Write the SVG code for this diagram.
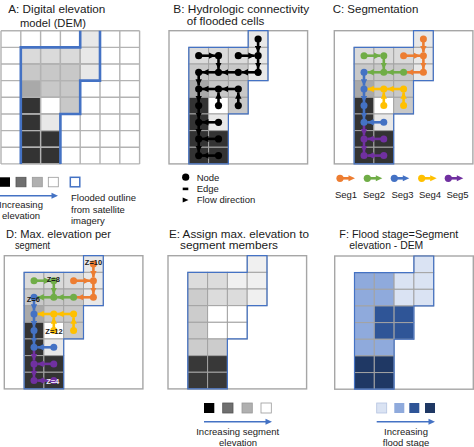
<svg xmlns="http://www.w3.org/2000/svg" width="474" height="447" viewBox="0 0 474 447">
<style>
text{font-family:"Liberation Sans","Open Sans",Arial,sans-serif;fill:#1a1a1a}
.t{font-size:11.5px}
.tb{font-size:10.5px}
.l{font-size:9.5px}
.m{text-anchor:middle}
.z{font-size:7.5px;font-weight:bold;text-anchor:middle}
.zw{fill:#efe6f8}
.grid{fill:none;stroke:#b3b3b3;stroke-width:1.4}
.box{fill:#fff;stroke:#a6a6a6;stroke-width:1.4}
.fo{fill:none;stroke:#4472c4;stroke-width:1.2}
.foA{fill:none;stroke:#4472c4;stroke-width:2.6}
.e{fill:none;stroke-width:2.6}
.k{stroke:#000}.o{stroke:#ed7d31}.g{stroke:#70ad47}.b{stroke:#4472c4}.y{stroke:#ffc000}.p{stroke:#7030a0}
.nk{fill:#000}.no{fill:#ed7d31}.ng{fill:#70ad47}.nb{fill:#4472c4}.ny{fill:#ffc000}.np{fill:#7030a0}
.la{stroke:#4472c4;stroke-width:1.6;fill:none}
</style>
<defs>
<marker id="aK" viewBox="0 0 10 10" refX="10" refY="5" markerWidth="6.5" markerHeight="6.5" markerUnits="userSpaceOnUse" orient="auto"><path d="M0,0L10,5L0,10z" fill="#000"/></marker>
<marker id="aO" viewBox="0 0 10 10" refX="10" refY="5" markerWidth="6.5" markerHeight="6.5" markerUnits="userSpaceOnUse" orient="auto"><path d="M0,0L10,5L0,10z" fill="#ed7d31"/></marker>
<marker id="aG" viewBox="0 0 10 10" refX="10" refY="5" markerWidth="6.5" markerHeight="6.5" markerUnits="userSpaceOnUse" orient="auto"><path d="M0,0L10,5L0,10z" fill="#70ad47"/></marker>
<marker id="aB" viewBox="0 0 10 10" refX="10" refY="5" markerWidth="6.5" markerHeight="6.5" markerUnits="userSpaceOnUse" orient="auto"><path d="M0,0L10,5L0,10z" fill="#4472c4"/></marker>
<marker id="aY" viewBox="0 0 10 10" refX="10" refY="5" markerWidth="6.5" markerHeight="6.5" markerUnits="userSpaceOnUse" orient="auto"><path d="M0,0L10,5L0,10z" fill="#ffc000"/></marker>
<marker id="aP" viewBox="0 0 10 10" refX="10" refY="5" markerWidth="6.5" markerHeight="6.5" markerUnits="userSpaceOnUse" orient="auto"><path d="M0,0L10,5L0,10z" fill="#7030a0"/></marker>
<path id="fl" d="M79.2,0H99V49.95H79.2V83.25H59.4V133.2H19.8V16.65H79.2Z"/>
<g id="dem" stroke="#a3a3a3" stroke-width="1">
<rect x="79.2" y="0" width="19.8" height="16.65" fill="#e8e8e8"/>
<rect x="19.8" y="16.65" width="19.8" height="16.65" fill="#dadada"/>
<rect x="39.6" y="16.65" width="19.8" height="16.65" fill="#dadada"/>
<rect x="59.4" y="16.65" width="19.8" height="16.65" fill="#dadada"/>
<rect x="79.2" y="16.65" width="19.8" height="16.65" fill="#e8e8e8"/>
<rect x="19.8" y="33.3" width="19.8" height="16.65" fill="#c8c8c8"/>
<rect x="39.6" y="33.3" width="19.8" height="16.65" fill="#c8c8c8"/>
<rect x="59.4" y="33.3" width="19.8" height="16.65" fill="#c8c8c8"/>
<rect x="79.2" y="33.3" width="19.8" height="16.65" fill="#e8e8e8"/>
<rect x="19.8" y="49.95" width="19.8" height="16.65" fill="#a9a9a9"/>
<rect x="39.6" y="49.95" width="19.8" height="16.65" fill="#c8c8c8"/>
<rect x="59.4" y="49.95" width="19.8" height="16.65" fill="#c8c8c8"/>
<rect x="19.8" y="66.6" width="19.8" height="16.65" fill="#333"/>
<rect x="39.6" y="66.6" width="19.8" height="16.65" fill="#fff"/>
<rect x="59.4" y="66.6" width="19.8" height="16.65" fill="#c8c8c8"/>
<rect x="19.8" y="83.25" width="19.8" height="16.65" fill="#333"/>
<rect x="39.6" y="83.25" width="19.8" height="16.65" fill="#e8e8e8"/>
<rect x="19.8" y="99.9" width="19.8" height="16.65" fill="#333"/>
<rect x="39.6" y="99.9" width="19.8" height="16.65" fill="#333"/>
<rect x="19.8" y="116.55" width="19.8" height="16.65" fill="#333"/>
<rect x="39.6" y="116.55" width="19.8" height="16.65" fill="#333"/>
</g>
<g id="segnet">
<g id="segedges">
<path class="e o" d="M89.1,8.3V21.7" marker-end="url(#aO)"/>
<path class="e o" d="M89.1,25V38.3" marker-end="url(#aO)"/>
<path class="e o" d="M69.3,25H85.8" marker-end="url(#aO)"/>
<path class="e o" d="M89.1,41.6H72.6" marker-end="url(#aO)"/>
<path class="e g" d="M29.7,25H46.2" marker-end="url(#aG)"/>
<path class="e g" d="M49.5,25V38.3" marker-end="url(#aG)"/>
<path class="e g" d="M69.3,41.6H52.8" marker-end="url(#aG)"/>
<path class="e g" d="M49.5,41.6H33" marker-end="url(#aG)"/>
<path class="e b" d="M29.7,41.6V55" marker-end="url(#aB)"/>
<path class="e b" d="M29.7,58.3V71.6" marker-end="url(#aB)"/>
<path class="e b" d="M29.7,74.9V88.3" marker-end="url(#aB)"/>
<path class="e b" d="M49.5,91.6H33" marker-end="url(#aB)"/>
<path class="e y" d="M69.3,58.3H52.8" marker-end="url(#aY)"/>
<path class="e y" d="M49.5,58.3H33" marker-end="url(#aY)"/>
<path class="e y" d="M49.5,74.9V61.6" marker-end="url(#aY)"/>
<path class="e y" d="M69.3,74.9V61.6" marker-end="url(#aY)"/>
<path class="e p" d="M29.7,91.6V104.9" marker-end="url(#aP)"/>
<path class="e p" d="M29.7,108.2V121.6" marker-end="url(#aP)"/>
<path class="e p" d="M49.5,108.2H33" marker-end="url(#aP)"/>
<path class="e p" d="M49.5,124.9H33" marker-end="url(#aP)"/>
</g>
<g id="segnodes">
<circle class="no" cx="89.1" cy="8.3" r="3.5"/><circle class="no" cx="69.3" cy="25" r="3.5"/><circle class="no" cx="89.1" cy="25" r="3.5"/><circle class="no" cx="89.1" cy="41.6" r="3.5"/>
<circle class="ng" cx="29.7" cy="25" r="3.5"/><circle class="ng" cx="49.5" cy="25" r="3.5"/><circle class="ng" cx="49.5" cy="41.6" r="3.5"/><circle class="ng" cx="69.3" cy="41.6" r="3.5"/>
<circle class="nb" cx="29.7" cy="41.6" r="3.5"/><circle class="nb" cx="29.7" cy="58.3" r="3.5"/><circle class="nb" cx="29.7" cy="74.9" r="3.5"/><circle class="nb" cx="29.7" cy="91.6" r="3.5"/><circle class="nb" cx="49.5" cy="91.6" r="3.5"/>
<circle class="ny" cx="49.5" cy="58.3" r="3.5"/><circle class="ny" cx="69.3" cy="58.3" r="3.5"/><circle class="ny" cx="49.5" cy="74.9" r="3.5"/><circle class="ny" cx="69.3" cy="74.9" r="3.5"/>
<circle class="np" cx="29.7" cy="108.2" r="3.5"/><circle class="np" cx="29.7" cy="124.9" r="3.5"/><circle class="np" cx="49.5" cy="108.2" r="3.5"/><circle class="np" cx="49.5" cy="124.9" r="3.5"/>
</g>
</g>
</defs>

<!-- Panel A -->
<g id="panelA">
<text class="t" x="8.3" y="13.3" textLength="97" lengthAdjust="spacingAndGlyphs">A: Digital elevation</text>
<text class="t" x="20" y="26.7" textLength="66" lengthAdjust="spacingAndGlyphs">model (DEM)</text>
<g transform="translate(1,30.7)">
<use href="#dem"/>
<path class="grid" d="M0,0V133.2M19.8,0V133.2M39.6,0V133.2M59.4,0V133.2M79.2,0V133.2M99,0V133.2M118.8,0V133.2M138.6,0V133.2M0,0H138.6M0,16.65H138.6M0,33.3H138.6M0,49.95H138.6M0,66.6H138.6M0,83.25H138.6M0,99.9H138.6M0,116.55H138.6M0,133.2H138.6"/>
<path class="foA" d="M79.2,0V16.65H19.8V133.2M99,0V49.95H79.2V83.25H59.4V133.2"/>
</g>
</g>
<g id="legendA">
<rect x="0" y="177.3" width="10" height="9.5" fill="#000"/>
<rect x="16" y="177.3" width="10" height="9.5" fill="#6f6f6f" stroke="#555" stroke-width="0.8"/>
<rect x="32.3" y="177.3" width="10" height="9.5" fill="#b0b0b0" stroke="#999" stroke-width="0.8"/>
<rect x="48.3" y="177.3" width="10" height="9.5" fill="#fff" stroke="#999" stroke-width="0.8"/>
<rect x="70.3" y="177.3" width="9.5" height="9.5" fill="#fff" stroke="#4472c4" stroke-width="1.5"/>
<path class="la" d="M0,195.7H52"/>
<path d="M51.5,192.7L58,195.7L51.5,198.7z" fill="#4472c4"/>
<text class="l m" x="21" y="208.3">Increasing</text>
<text class="l m" x="21" y="219.3">elevation</text>
<text class="l" x="71" y="201">Flooded outline</text>
<text class="l" x="71" y="212.5">from satellite</text>
<text class="l" x="71" y="223.5">imagery</text>
</g>

<!-- Panel B -->
<g id="panelB">
<text class="t" x="173.3" y="13" textLength="136" lengthAdjust="spacingAndGlyphs">B: Hydrologic connectivity</text>
<text class="t" x="186.7" y="24.6" textLength="77.6" lengthAdjust="spacingAndGlyphs">of flooded cells</text>
<g transform="translate(169,30.7)">
<rect class="box" x="0" y="0" width="138.6" height="133.2"/>
<use href="#dem"/>
<use href="#fl" class="fo"/>
<g id="connectorsB">
<path class="e k" d="M89.1,8.3V21.7" marker-end="url(#aK)"/>
<path class="e k" d="M89.1,25V38.3" marker-end="url(#aK)"/>
<path class="e k" d="M69.3,25H85.8" marker-end="url(#aK)"/>
<path class="e k" d="M89.1,41.6H72.6" marker-end="url(#aK)"/>
<path class="e k" d="M29.7,25H46.2" marker-end="url(#aK)"/>
<path class="e k" d="M49.5,25V38.3" marker-end="url(#aK)"/>
<path class="e k" d="M69.3,41.6H52.8" marker-end="url(#aK)"/>
<path class="e k" d="M49.5,41.6H33" marker-end="url(#aK)"/>
<path class="e k" d="M29.7,41.6V55" marker-end="url(#aK)"/>
<path class="e k" d="M29.7,58.3V71.6" marker-end="url(#aK)"/>
<path class="e k" d="M29.7,74.9V88.3" marker-end="url(#aK)"/>
<path class="e k" d="M49.5,91.6H33" marker-end="url(#aK)"/>
<path class="e k" d="M69.3,58.3H52.8" marker-end="url(#aK)"/>
<path class="e k" d="M49.5,58.3H33" marker-end="url(#aK)"/>
<path class="e k" d="M49.5,74.9V61.6" marker-end="url(#aK)"/>
<path class="e k" d="M69.3,74.9V61.6" marker-end="url(#aK)"/>
<path class="e k" d="M29.7,91.6V104.9" marker-end="url(#aK)"/>
<path class="e k" d="M29.7,108.2V121.6" marker-end="url(#aK)"/>
<path class="e k" d="M49.5,108.2H33" marker-end="url(#aK)"/>
<path class="e k" d="M49.5,124.9H33" marker-end="url(#aK)"/>
</g>
<g id="nodesB" class="nk">
<circle cx="89.1" cy="8.3" r="3.6"/><circle cx="69.3" cy="25" r="3.6"/><circle cx="89.1" cy="25" r="3.6"/><circle cx="89.1" cy="41.6" r="3.6"/>
<circle cx="29.7" cy="25" r="3.6"/><circle cx="49.5" cy="25" r="3.6"/><circle cx="49.5" cy="41.6" r="3.6"/><circle cx="69.3" cy="41.6" r="3.6"/>
<circle cx="29.7" cy="41.6" r="3.6"/><circle cx="29.7" cy="58.3" r="3.6"/><circle cx="29.7" cy="74.9" r="3.6"/><circle cx="29.7" cy="91.6" r="3.6"/><circle cx="49.5" cy="91.6" r="3.6"/>
<circle cx="49.5" cy="58.3" r="3.6"/><circle cx="69.3" cy="58.3" r="3.6"/><circle cx="49.5" cy="74.9" r="3.6"/><circle cx="69.3" cy="74.9" r="3.6"/>
<circle cx="29.7" cy="108.2" r="3.6"/><circle cx="29.7" cy="124.9" r="3.6"/><circle cx="49.5" cy="108.2" r="3.6"/><circle cx="49.5" cy="124.9" r="3.6"/>
</g>
</g>
</g>
<g id="legendB">
<circle cx="185.7" cy="177.2" r="3.6" fill="#000"/>
<rect x="182.7" y="187.6" width="5.6" height="2.6" fill="#000"/>
<path d="M182.7,197.6L188.5,200L182.7,202.4z" fill="#000"/>
<text class="l" x="196.7" y="180.5">Node</text>
<text class="l" x="196.7" y="191.6">Edge</text>
<text class="l" x="196.7" y="202.7">Flow direction</text>
</g>

<!-- Panel C -->
<g id="panelC">
<text class="t" x="332.7" y="12.7" textLength="85.6" lengthAdjust="spacingAndGlyphs">C: Segmentation</text>
<g transform="translate(334.3,30.7)">
<rect class="box" x="0" y="0" width="138.6" height="133.2"/>
<use href="#dem"/>
<use href="#fl" class="fo"/>
<use href="#segnet"/>
</g>
</g>
<g id="legendC">
<path class="e o" d="M340,178.3H349"/><circle class="no" cx="340" cy="178.3" r="3.6"/><path d="M348.5,175.3L355,178.3L348.5,181.3z" fill="#ed7d31"/>
<path class="e g" d="M367.3,178.3H376.3"/><circle class="ng" cx="367.3" cy="178.3" r="3.6"/><path d="M375.8,175.3L382.3,178.3L375.8,181.3z" fill="#70ad47"/>
<path class="e b" d="M394.3,178.3H403.3"/><circle class="nb" cx="394.3" cy="178.3" r="3.6"/><path d="M402.8,175.3L409.3,178.3L402.8,181.3z" fill="#4472c4"/>
<path class="e y" d="M421.7,178.3H430.7"/><circle class="ny" cx="421.7" cy="178.3" r="3.6"/><path d="M430.2,175.3L436.7,178.3L430.2,181.3z" fill="#ffc000"/>
<path class="e p" d="M448.3,178.3H457.3"/><circle class="np" cx="448.3" cy="178.3" r="3.6"/><path d="M456.8,175.3L463.3,178.3L456.8,181.3z" fill="#7030a0"/>
<text class="l m" x="346" y="198.3">Seg1</text>
<text class="l m" x="374" y="198.3">Seg2</text>
<text class="l m" x="402.5" y="198.3">Seg3</text>
<text class="l m" x="430" y="198.3">Seg4</text>
<text class="l m" x="457.5" y="198.3">Seg5</text>
</g>

<!-- Panel D -->
<g id="panelD">
<text class="tb" x="6" y="238" textLength="105" lengthAdjust="spacingAndGlyphs">D: Max. elevation per</text>
<text class="tb" x="15" y="249" textLength="35" lengthAdjust="spacingAndGlyphs">segment</text>
<g transform="translate(4.3,255.7)">
<rect class="box" x="0" y="0" width="138.6" height="133.2"/>
<use href="#dem"/>
<use href="#fl" class="fo"/>
<use href="#segnet"/>
<text class="z" x="89.2" y="9">Z=10</text>
<text class="z" x="49" y="26">Z=8</text>
<text class="z" x="29" y="46">Z=6</text>
<text class="z" x="49.7" y="78">Z=12</text>
<text class="z zw" x="48.4" y="128.5">Z=4</text>
</g>
</g>

<!-- Panel E -->
<g id="panelE">
<text class="tb" x="169" y="237.8" textLength="140" lengthAdjust="spacingAndGlyphs">E: Assign max. elevation to</text>
<text class="tb" x="180" y="249.2" textLength="98" lengthAdjust="spacingAndGlyphs">segment members</text>
<g transform="translate(168,255.7)">
<rect class="box" x="0" y="0" width="138.6" height="133.2"/>
<g stroke="#a3a3a3" stroke-width="1">
<rect x="79.2" y="0" width="19.8" height="16.65" fill="#f0f0f0"/>
<rect x="19.8" y="16.65" width="19.8" height="16.65" fill="#dcdcdc"/>
<rect x="39.6" y="16.65" width="19.8" height="16.65" fill="#dcdcdc"/>
<rect x="59.4" y="16.65" width="19.8" height="16.65" fill="#f0f0f0"/>
<rect x="79.2" y="16.65" width="19.8" height="16.65" fill="#f0f0f0"/>
<rect x="19.8" y="33.3" width="19.8" height="16.65" fill="#cccccc"/>
<rect x="39.6" y="33.3" width="19.8" height="16.65" fill="#dcdcdc"/>
<rect x="59.4" y="33.3" width="19.8" height="16.65" fill="#dcdcdc"/>
<rect x="79.2" y="33.3" width="19.8" height="16.65" fill="#f0f0f0"/>
<rect x="19.8" y="49.95" width="19.8" height="16.65" fill="#cccccc"/>
<rect x="39.6" y="49.95" width="19.8" height="16.65" fill="#fff"/>
<rect x="59.4" y="49.95" width="19.8" height="16.65" fill="#fff"/>
<rect x="19.8" y="66.6" width="19.8" height="16.65" fill="#cccccc"/>
<rect x="39.6" y="66.6" width="19.8" height="16.65" fill="#fff"/>
<rect x="59.4" y="66.6" width="19.8" height="16.65" fill="#fff"/>
<rect x="19.8" y="83.25" width="19.8" height="16.65" fill="#cccccc"/>
<rect x="39.6" y="83.25" width="19.8" height="16.65" fill="#cccccc"/>
<rect x="19.8" y="99.9" width="19.8" height="16.65" fill="#383838"/>
<rect x="39.6" y="99.9" width="19.8" height="16.65" fill="#383838"/>
<rect x="19.8" y="116.55" width="19.8" height="16.65" fill="#383838"/>
<rect x="39.6" y="116.55" width="19.8" height="16.65" fill="#383838"/>
</g>
<use href="#fl" class="fo"/>
</g>
</g>
<g id="legendE">
<rect x="204" y="403" width="10.3" height="10" fill="#000"/>
<rect x="222.7" y="403" width="10.3" height="10" fill="#6f6f6f" stroke="#555" stroke-width="0.8"/>
<rect x="242" y="403" width="10.3" height="10" fill="#b0b0b0" stroke="#999" stroke-width="0.8"/>
<rect x="261" y="403" width="10.3" height="10" fill="#fff" stroke="#999" stroke-width="0.8"/>
<path class="la" d="M204,421.7H266"/>
<path d="M265.5,418.7L272,421.7L265.5,424.7z" fill="#4472c4"/>
<text class="l m" x="237.7" y="435">Increasing segment</text>
<text class="l m" x="238" y="445.5">elevation</text>
</g>

<!-- Panel F -->
<g id="panelF">
<text class="tb" x="339.3" y="237.8" textLength="119" lengthAdjust="spacingAndGlyphs">F: Flood stage=Segment</text>
<text class="tb" x="349.3" y="249.2" textLength="74" lengthAdjust="spacingAndGlyphs">elevation - DEM</text>
<g transform="translate(334.7,256)">
<rect class="box" x="0" y="0" width="138.6" height="133.2"/>
<g stroke="#a3a3a3" stroke-width="1">
<rect x="79.2" y="0" width="19.8" height="16.65" fill="#dae3f3"/>
<rect x="19.8" y="16.65" width="19.8" height="16.65" fill="#8faadc"/>
<rect x="39.6" y="16.65" width="19.8" height="16.65" fill="#8faadc"/>
<rect x="59.4" y="16.65" width="19.8" height="16.65" fill="#dae3f3"/>
<rect x="79.2" y="16.65" width="19.8" height="16.65" fill="#dae3f3"/>
<rect x="19.8" y="33.3" width="19.8" height="16.65" fill="#8faadc"/>
<rect x="39.6" y="33.3" width="19.8" height="16.65" fill="#8faadc"/>
<rect x="59.4" y="33.3" width="19.8" height="16.65" fill="#dae3f3"/>
<rect x="79.2" y="33.3" width="19.8" height="16.65" fill="#dae3f3"/>
<rect x="19.8" y="49.95" width="19.8" height="16.65" fill="#8faadc"/>
<rect x="39.6" y="49.95" width="19.8" height="16.65" fill="#2f5597"/>
<rect x="59.4" y="49.95" width="19.8" height="16.65" fill="#2f5597"/>
<rect x="19.8" y="66.6" width="19.8" height="16.65" fill="#8faadc"/>
<rect x="39.6" y="66.6" width="19.8" height="16.65" fill="#2f5597"/>
<rect x="59.4" y="66.6" width="19.8" height="16.65" fill="#2f5597"/>
<rect x="19.8" y="83.25" width="19.8" height="16.65" fill="#8faadc"/>
<rect x="39.6" y="83.25" width="19.8" height="16.65" fill="#8faadc"/>
<rect x="19.8" y="99.9" width="19.8" height="16.65" fill="#1f3864"/>
<rect x="39.6" y="99.9" width="19.8" height="16.65" fill="#1f3864"/>
<rect x="19.8" y="116.55" width="19.8" height="16.65" fill="#1f3864"/>
<rect x="39.6" y="116.55" width="19.8" height="16.65" fill="#1f3864"/>
</g>
<use href="#fl" class="fo"/>
</g>
</g>
<g id="legendF">
<rect x="376.7" y="403" width="10" height="10" fill="#dae3f3" stroke="#b4c3e0" stroke-width="0.8"/>
<rect x="394.3" y="403" width="10" height="10" fill="#8faadc"/>
<rect x="409.3" y="403" width="10" height="10" fill="#2f5597"/>
<rect x="425" y="403" width="10" height="10" fill="#1f3864"/>
<path class="la" d="M376.7,421.7H429"/>
<path d="M428.5,418.7L435,421.7L428.5,424.7z" fill="#4472c4"/>
<text class="l m" x="406" y="435">Increasing</text>
<text class="l m" x="406" y="445.5">flood stage</text>
</g>
</svg>
